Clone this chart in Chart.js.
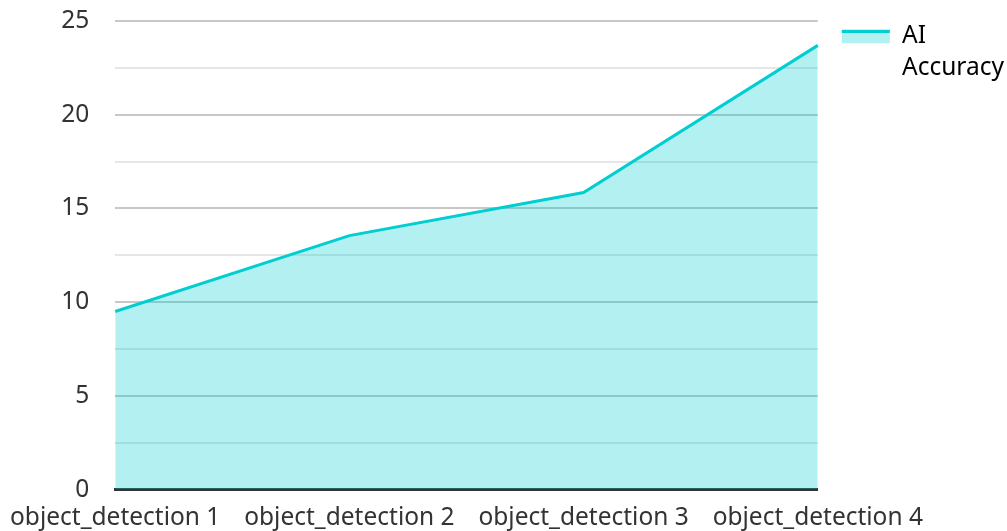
<!DOCTYPE html>
<html>
<head>
<meta charset="utf-8">
<script src="https://cdn.jsdelivr.net/npm/chart.js@4/dist/chart.umd.min.js"></script>
<style>
  html, body { margin: 0; padding: 0; background: #fff; }
  #wrap { width: 1007px; height: 531px; position: relative; }
</style>
</head>
<body>
<div id="wrap"><canvas id="chart"></canvas></div>
<script>
const categories = ["object_detection 1", "object_detection 2", "object_detection 3", "object_detection 4"];
const accuracy = [9.5, 13.55, 15.85, 23.7];
const seriesName = ["AI", "Accuracy"];

const lineColor = "#00CED1";
const fillColor = "rgba(0,206,209,0.3)";
const fontSize = 24.5;

// draws the thick top line on the legend swatch
const legendLine = {
  id: "legendLine",
  afterDraw(chart) {
    const lg = chart.legend;
    if (!lg || !lg.legendHitBoxes) return;
    const ctx = chart.ctx;
    const box = lg.legendHitBoxes[0];
    const bw = lg.options.labels.boxWidth;
    ctx.save();
    ctx.fillStyle = lineColor;
    ctx.fillRect(box.left, box.top + 6, bw, 3);
    ctx.restore();
  }
};

new Chart(document.getElementById("chart"), {
  type: "line",
  data: {
    labels: categories,
    datasets: [{
      label: seriesName.join(" "),
      data: accuracy,
      borderColor: lineColor,
      backgroundColor: fillColor,
      borderWidth: 3,
      fill: "origin",
      pointRadius: 0,
      tension: 0
    }]
  },
  options: {
    responsive: true,
    maintainAspectRatio: false,
    animation: false,
    layout: { padding: { top: 0, right: -7, left: 0, bottom: -16 } },
    plugins: {
      tooltip: { enabled: false },
      legend: {
        position: "right",
        align: "start",
        labels: {
          boxWidth: 48,
          boxHeight: 14,
          padding: 24,
          color: "#333",
          font: { family: "'Noto Sans'", size: fontSize, lineHeight: 1.3 },
          generateLabels() {
            return [{
              text: seriesName,
              fillStyle: fillColor,
              strokeStyle: "rgba(0,0,0,0)",
              lineWidth: 0,
              datasetIndex: 0
            }];
          }
        }
      }
    },
    scales: {
      x: {
        offset: false,
        grid: { display: false, drawTicks: false },
        border: { color: "#333", width: 3 },
        ticks: {
          color: "#333",
          maxRotation: 0,
          padding: 14,
          font: { family: "'Noto Sans'", size: fontSize }
        },
        afterFit(s) {
          s.paddingLeft -= 4;
        }
      },
      y: {
        min: 0,
        max: 25,
        border: { display: false },
        grid: {
          drawTicks: false,
          lineWidth: 2,
          color: (c) => (c.tick && c.tick.value % 5 === 0) ? "#c8c8c8" : "#e6e6e6"
        },
        ticks: {
          stepSize: 2.5,
          color: "#333",
          padding: 26,
          font: { family: "'Noto Sans'", size: fontSize },
          callback: (v) => (v % 5 === 0 ? v : "")
        },
        // tick padding should only push labels sideways, not shrink the plot vertically
        afterFit(s) {
          s.paddingTop = 21;
          s.paddingBottom = 0;
        }
      }
    }
  },
  plugins: [legendLine]
});
</script>
</body>
</html>
